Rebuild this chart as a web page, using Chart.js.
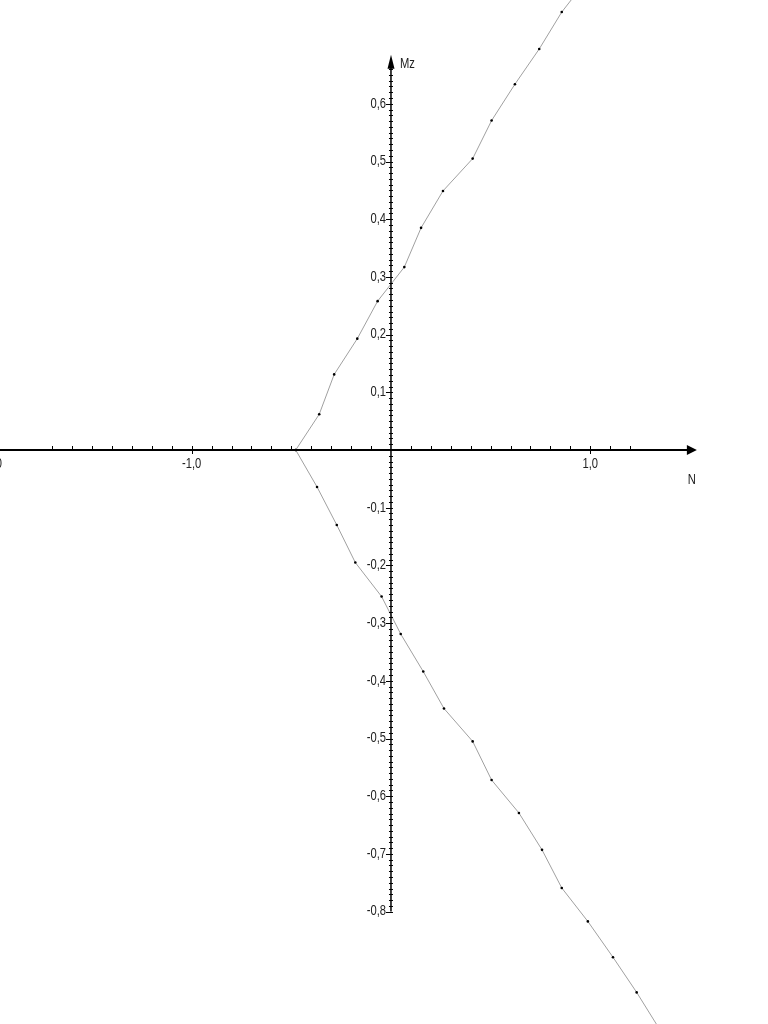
<!DOCTYPE html>
<html>
<head>
<meta charset="utf-8">
<title>Mz - N</title>
<script src="https://cdn.jsdelivr.net/npm/chart.js@4/dist/chart.umd.min.js"></script>
<style>
  html, body { margin: 0; padding: 0; background: #fff; }
  #wrap { width: 768px; height: 1024px; position: relative; }
</style>
</head>
<body>
<div id="wrap"><canvas id="mzChart"></canvas></div>
<script>
// Upper branch (+Mz) and lower branch (-Mz)
const upperN  = [-0.478, -0.360, -0.285, -0.169, -0.067, 0.067, 0.151, 0.261, 0.410, 0.505, 0.622, 0.744, 0.857, 0.988];
const upperMz = [0, 0.062, 0.131, 0.193, 0.258, 0.317, 0.385, 0.449, 0.505, 0.571, 0.634, 0.695, 0.759, 0.817];
const lowerN  = [-0.478, -0.371, -0.272, -0.179, -0.047, 0.049, 0.162, 0.266, 0.410, 0.505, 0.642, 0.758, 0.857, 0.988, 1.114, 1.233, 1.350];
const lowerMz = [0, -0.064, -0.130, -0.195, -0.254, -0.319, -0.384, -0.448, -0.505, -0.572, -0.629, -0.693, -0.759, -0.817, -0.879, -0.940, -1.005];

// Axis ticks / labels
const xLabelValues = [-2, -1, 1];
const xLabels = ['-2,0', '-1,0', '1,0'];
const yLabelValues = [0.6, 0.5, 0.4, 0.3, 0.2, 0.1, -0.1, -0.2, -0.3, -0.4, -0.5, -0.6, -0.7, -0.8];
const yLabels = ['0,6', '0,5', '0,4', '0,3', '0,2', '0,1', '-0,1', '-0,2', '-0,3', '-0,4', '-0,5', '-0,6', '-0,7', '-0,8'];

const toPoints = (xs, ys) => xs.map((x, i) => ({ x: x, y: ys[i] }));

function narrowText(ctx, text, x, y, align) {
    // condensed look: squeeze the text horizontally
    const sx = 0.8;
    ctx.save();
    ctx.translate(x, y);
    ctx.scale(sx, 1);
    ctx.textAlign = align;
    ctx.fillText(text, 0, 0);
    ctx.restore();
}

const axesPlugin = {
    id: 'crossAxes',
    afterDatasetsDraw: (chart) => {
        const ctx = chart.ctx;
        const xs = chart.scales.x;
        const ys = chart.scales.y;
        const ox = xs.getPixelForValue(0);
        const oy = ys.getPixelForValue(0);

        ctx.save();
        ctx.strokeStyle = '#000';
        ctx.fillStyle = '#000';

        // N axis
        const xEnd = xs.getPixelForValue(1.535);
        ctx.lineWidth = 2;
        ctx.beginPath();
        ctx.moveTo(0, oy);
        ctx.lineTo(xEnd - 6, oy);
        ctx.stroke();
        ctx.beginPath();
        ctx.moveTo(xEnd, oy);
        ctx.lineTo(xEnd - 10, oy - 5);
        ctx.lineTo(xEnd - 10, oy + 5);
        ctx.closePath();
        ctx.fill();

        // small ticks on N axis every 0.1
        ctx.lineWidth = 1;
        for (let k = -17; k <= 12; k++) {
            if (k === 0) continue;
            const px = Math.round(xs.getPixelForValue(k / 10)) + 0.5;
            const major = (k % 10 === 0);
            ctx.beginPath();
            ctx.moveTo(px, oy - 4);
            ctx.lineTo(px, major ? oy + 4 : oy);
            ctx.stroke();
        }

        // Mz axis
        const yTop = ys.getPixelForValue(0.685);
        const yBot = ys.getPixelForValue(-0.8);
        ctx.lineWidth = 1.5;
        ctx.beginPath();
        ctx.moveTo(ox, yBot);
        ctx.lineTo(ox, yTop + 8);
        ctx.stroke();
        ctx.beginPath();
        ctx.moveTo(ox, yTop);
        ctx.lineTo(ox - 3.5, yTop + 14);
        ctx.lineTo(ox + 3.5, yTop + 14);
        ctx.closePath();
        ctx.fill();

        // ticks on Mz axis every 0.01
        ctx.lineWidth = 1;
        for (let k = -80; k <= 67; k++) {
            if (k === 0) continue;
            const py = Math.round(ys.getPixelForValue(k / 100)) + 0.5;
            const major = (k % 10 === 0);
            ctx.beginPath();
            ctx.moveTo(ox - (major ? 5 : 2), py);
            ctx.lineTo(ox + 2, py);
            ctx.stroke();
        }

        // labels
        ctx.fillStyle = '#222';
        ctx.font = '14px "Liberation Sans", Arial, sans-serif';
        ctx.textBaseline = 'middle';
        xLabelValues.forEach((v, i) => {
            narrowText(ctx, xLabels[i], xs.getPixelForValue(v), oy + 14, 'center');
        });
        yLabelValues.forEach((v, i) => {
            narrowText(ctx, yLabels[i], ox - 5, ys.getPixelForValue(v), 'right');
        });
        narrowText(ctx, 'Mz', ox + 9, ys.getPixelForValue(0.669), 'left');
        narrowText(ctx, 'N', xs.getPixelForValue(1.51), oy + 30, 'center');

        ctx.restore();
    }
};

const ctx = document.getElementById('mzChart').getContext('2d');
const chart = new Chart(ctx, {
    type: 'scatter',
    data: {
        datasets: [{
            label: 'Mz+',
            data: toPoints(upperN, upperMz),
            showLine: true,
            borderColor: '#a0a0a0',
            borderWidth: 1,
            pointRadius: 1.3,
            pointBackgroundColor: '#000',
            pointBorderWidth: 0
        }, {
            label: 'Mz-',
            data: toPoints(lowerN, lowerMz),
            showLine: true,
            borderColor: '#a0a0a0',
            borderWidth: 1,
            pointRadius: 1.3,
            pointBackgroundColor: '#000',
            pointBorderWidth: 0
        }]
    },
    options: {
        responsive: true,
        maintainAspectRatio: false,
        animation: false,
        layout: { padding: 0, autoPadding: false },
        scales: {
            x: { type: 'linear', min: -1.962, max: 1.892, display: false },
            y: { type: 'linear', min: -0.9948, max: 0.7799, display: false }
        },
        plugins: {
            legend: { display: false },
            tooltip: { enabled: false }
        }
    },
    plugins: [axesPlugin]
});
</script>
</body>
</html>
